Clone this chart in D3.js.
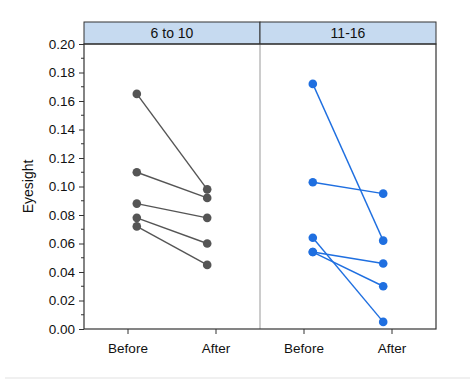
<!DOCTYPE html>
<html><head><meta charset="utf-8">
<script src="https://cdn.jsdelivr.net/npm/d3@7"></script>
<style>body{margin:0;background:#fff}svg{display:block}text{font-family:"Liberation Sans",Arial,sans-serif}</style>
</head><body><svg id="c" width="474" height="379"></svg>
<script>
const panels = ["6 to 10", "11-16"];
const conditions = ["Before", "After"];
const beforeLeft = [0.165, 0.110, 0.088, 0.078, 0.072];
const afterLeft  = [0.098, 0.092, 0.078, 0.060, 0.045];
const beforeRight = [0.172, 0.103, 0.064, 0.054, 0.054];
const afterRight  = [0.062, 0.095, 0.005, 0.046, 0.030];
const yTicks = [0, 0.02, 0.04, 0.06, 0.08, 0.10, 0.12, 0.14, 0.16, 0.18, 0.20];
const seriesColors = ["#555555", "#1f6fe0"];

const data = [
  {panel: panels[0], before: beforeLeft, after: afterLeft, color: seriesColors[0]},
  {panel: panels[1], before: beforeRight, after: afterRight, color: seriesColors[1]}
];

const svg = d3.select("#c");
const L = 84, R = 436, T = 44, B = 329, stripTop = 22;
const y = d3.scaleLinear().domain([0, 0.2]).range([B, T]);
const px = d3.scaleBand().domain(panels).range([L, R]);
const pw = px.bandwidth();
const x = d3.scalePoint().domain(conditions).range([0.25, 0.75]);
const jitter = [0.05, -0.05];

svg.append("rect").attr("x", 5).attr("y", 377).attr("width", 465).attr("height", 2).attr("fill", "#f0f0f0");

panels.forEach(p => {
  svg.append("rect").attr("x", px(p)).attr("y", stripTop).attr("width", pw).attr("height", T - stripTop)
    .attr("fill", "#c6daf0").attr("stroke", "#333").attr("stroke-width", 1);
  svg.append("text").attr("x", px(p) + pw / 2).attr("y", (stripTop + T) / 2 + 5)
    .attr("text-anchor", "middle").attr("font-size", 14).attr("fill", "#111").text(p);
});

svg.append("line").attr("x1", px(panels[1])).attr("x2", px(panels[1])).attr("y1", T).attr("y2", B)
  .attr("stroke", "#999").attr("stroke-width", 1);

svg.append("rect").attr("x", L).attr("y", T).attr("width", R - L).attr("height", B - T)
  .attr("fill", "none").attr("stroke", "#333").attr("stroke-width", 1.2);

const yAxis = d3.axisLeft(y).tickValues(yTicks).tickFormat(d3.format(".2f")).tickSize(5).tickPadding(4);
const ga = svg.append("g").attr("transform", `translate(${L},0)`).call(yAxis);
ga.select(".domain").remove();
ga.selectAll("text").attr("font-size", 13.5).attr("fill", "#111").attr("font-family", '"Liberation Sans",Arial,sans-serif');
ga.selectAll("line").attr("stroke", "#333");
const minor = d3.range(0.01, 0.2, 0.02);
svg.append("g").selectAll("line").data(minor).join("line")
  .attr("x1", L - 3).attr("x2", L).attr("y1", d => y(d)).attr("y2", d => y(d)).attr("stroke", "#333");

svg.append("text").attr("transform", `translate(33,${(T + B) / 2}) rotate(-90)`)
  .attr("text-anchor", "middle").attr("font-size", 14).attr("fill", "#111").text("Eyesight");

panels.forEach(p => {
  conditions.forEach(c => {
    const xx = px(p) + x(c) * pw;
    svg.append("line").attr("x1", xx).attr("x2", xx).attr("y1", B).attr("y2", B + 5).attr("stroke", "#333");
    svg.append("text").attr("x", xx).attr("y", B + 24).attr("text-anchor", "middle")
      .attr("font-size", 13.5).attr("fill", "#111").text(c);
  });
});

data.forEach(d => {
  const g = svg.append("g");
  const x0 = px(d.panel) + (x(conditions[0]) + jitter[0]) * pw;
  const x1 = px(d.panel) + (x(conditions[1]) + jitter[1]) * pw;
  d.before.forEach((b, i) => {
    g.append("line").attr("x1", x0).attr("y1", y(b)).attr("x2", x1).attr("y2", y(d.after[i]))
      .attr("stroke", d.color).attr("stroke-width", 1.4);
  });
  d.before.forEach((b, i) => {
    g.append("circle").attr("cx", x0).attr("cy", y(b)).attr("r", 4.3).attr("fill", d.color);
    g.append("circle").attr("cx", x1).attr("cy", y(d.after[i])).attr("r", 4.3).attr("fill", d.color);
  });
});
</script></body></html>
